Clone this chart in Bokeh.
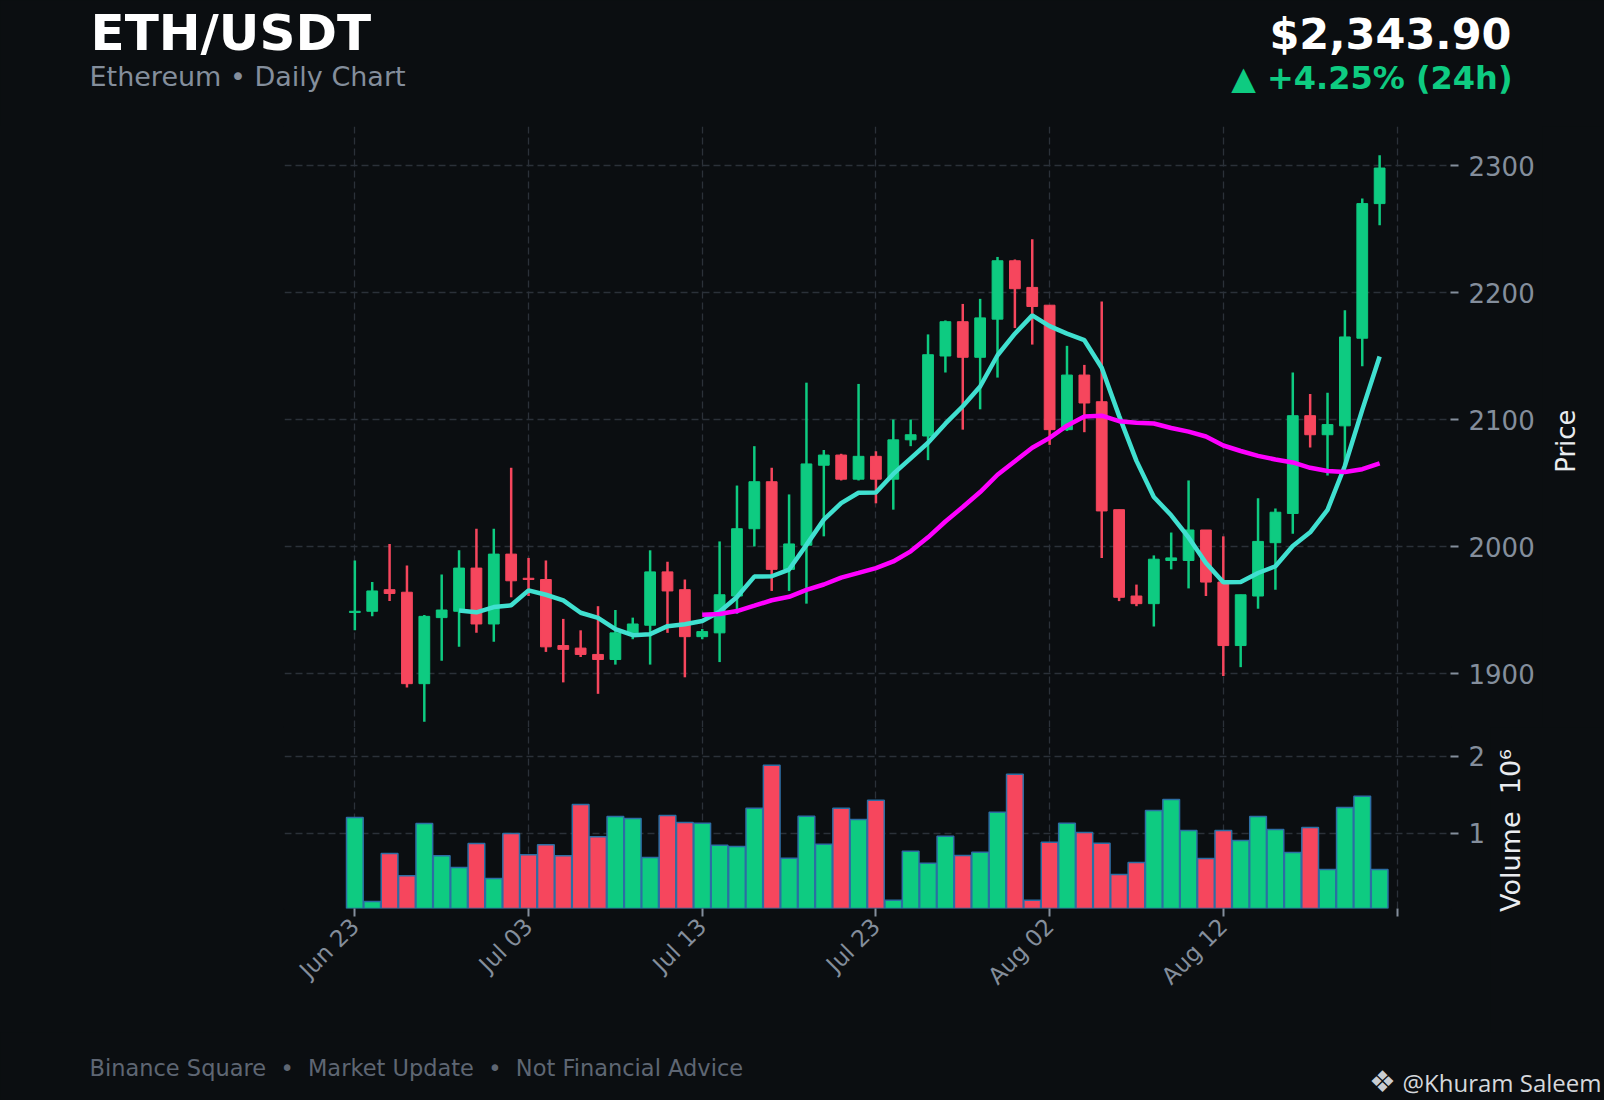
import numpy as np
import pandas as pd
from bokeh.plotting import figure
from bokeh.layouts import column, row
from bokeh.models import Range1d, FixedTicker, ColumnDataSource
from bokeh.core.properties import value
from bokeh.embed import file_html
from bokeh.resources import INLINE

# ---------------- data ----------------
open_ = [1948, 1949, 1966, 1964, 1892, 1944, 1949, 1983, 1939, 1994,
         1975, 1974, 1922, 1920, 1915, 1911, 1932, 1938, 1980, 1966,
         1929, 1932, 1961, 2014, 2051, 1982, 2001, 2064, 2072, 2053,
         2071, 2053, 2084, 2087, 2150, 2177, 2149, 2179, 2225, 2204,
         2190, 2092, 2135, 2114, 2029, 1961, 1955, 1989, 1989, 2013,
         1972, 1922, 1961, 2003, 2026, 2103, 2088, 2095, 2164, 2270]
close = [1949, 1965, 1963, 1892, 1945, 1950, 1983, 1939, 1994, 1973,
         1974, 1921, 1919, 1915, 1911, 1932, 1939, 1980, 1965, 1929,
         1933, 1962, 2014, 2051, 1982, 2002, 2065, 2072, 2053, 2071,
         2053, 2084, 2088, 2151, 2177, 2149, 2180, 2225, 2203, 2189,
         2092, 2135, 2113, 2028, 1960, 1955, 1990, 1991, 2013, 1972,
         1922, 1962, 2004, 2027, 2103, 2088, 2096, 2165, 2270, 2298]
high = [1989, 1972, 2002, 1985, 1946, 1978, 1997, 2014, 2014, 2062,
        1991, 1989, 1943, 1934, 1953, 1950, 1944, 1997, 1988, 1974,
        1935, 2004, 2048, 2079, 2062, 2041, 2129, 2076, 2073, 2128,
        2075, 2100, 2100, 2167, 2178, 2191, 2195, 2228, 2226, 2242,
        2190, 2158, 2143, 2193, 2029, 1970, 1993, 2011, 2052, 2013,
        2008, 1962, 2038, 2030, 2137, 2120, 2121, 2186, 2274, 2308]
low = [1934, 1945, 1957, 1889, 1862, 1910, 1921, 1932, 1925, 1960,
       1961, 1917, 1893, 1913, 1884, 1907, 1927, 1907, 1932, 1897,
       1927, 1909, 1947, 2000, 1965, 1965, 1955, 2008, 2052, 2052,
       2034, 2029, 2079, 2068, 2137, 2092, 2108, 2133, 2172, 2159,
       2080, 2091, 2090, 1991, 1957, 1953, 1937, 1982, 1967, 1961,
       1898, 1905, 1951, 1966, 2010, 2078, 2056, 2058, 2142, 2253]
volume = [1203000, 108000, 734000, 443000, 1125000, 704000, 551000, 864000, 408000, 995000,
          717000, 847000, 704000, 1373000, 951000, 1216000, 1190000, 682000, 1229000, 1138000,
          1127000, 843000, 825000, 1325000, 1885000, 673000, 1220000, 855000, 1325000, 1177000,
          1429000, 125000, 764000, 608000, 960000, 708000, 751000, 1273000, 1768000, 125000,
          882000, 1129000, 1008000, 869000, 460000, 617000, 1295000, 1438000, 1034000, 669000,
          1034000, 904000, 1216000, 1047000, 747000, 1073000, 525000, 1334000, 1481000, 525000]

tick_pos = [0, 10, 20, 30, 40, 50, 60]
tick_labels = ["Jun 23", "Jul 03", "Jul 13", "Jul 23", "Aug 02", "Aug 12", ""]
price_ticks = [1900, 2000, 2100, 2200, 2300]
volume_ticks = [1000000, 2000000]
volume_tick_labels = ["1", "2"]
ma_fast_window = 7
ma_slow_window = 21

title_text = "ETH/USDT"
subtitle_text = "Ethereum \u2022 Daily Chart"
price_text = "$2,343.90"
change_text = "\u25b2 +4.25% (24h)"
footer_text = "Binance Square\u00a0 \u2022\u00a0 Market Update\u00a0 \u2022\u00a0 Not Financial Advice"
logo_text = "\u2756"
credit_text = "@Khuram Saleem"
price_axis_title = "Price"
volume_axis_title = "Volume\u00a0 10\u2076"

# ---------------- style ----------------
BG = "#0b0e11"
GREEN = "#0ecb81"
RED = "#f6465d"
GRID = "#2b3139"
TICK = "#848e9c"
HOST_CSS = ":host { background-color: #0b0e11; }"

idx = np.arange(len(close))
o = np.array(open_, dtype=float)
c = np.array(close, dtype=float)
colors = [GREEN if cc >= oo else RED for oo, cc in zip(o, c)]
src = ColumnDataSource(dict(
    x=idx, high=high, low=low,
    top=np.maximum(o, c), bottom=np.minimum(o, c),
    color=colors, vol=volume,
))
ma_fast = pd.Series(c).rolling(ma_fast_window).mean().to_numpy()
ma_slow = pd.Series(c).rolling(ma_slow_window).mean().to_numpy()

xr = Range1d(-4.05, 63.08)


def base_fig(**kw):
    fig = figure(toolbar_location=None, output_backend="svg",
                 background_fill_color=BG, border_fill_color=None,
                 styles={"background-color": BG}, stylesheets=[HOST_CSS], **kw)
    fig.outline_line_color = BG
    fig.outline_line_width = 3
    return fig


def page_fig(x0, x1, y0, y1):
    """A blank figure whose data units are page pixels (y grows downward)."""
    fig = base_fig(width=x1 - x0, height=y1 - y0, x_range=Range1d(x0, x1),
                   y_range=Range1d(y1, y0), x_axis_type=None, y_axis_type=None,
                   min_border=0)
    try:
        fig.frame_align = False
    except Exception:
        pass
    fig.grid.visible = False
    fig.outline_line_color = None
    return fig


def style_axis(ax):
    ax.axis_line_color = None
    ax.major_tick_line_color = TICK
    ax.major_tick_line_width = 2
    ax.major_tick_out = 8
    ax.major_tick_in = 0
    ax.minor_tick_line_color = None
    ax.major_label_text_color = TICK
    ax.major_label_text_font = "DejaVu Sans"


def style_grid(fig):
    fig.grid.grid_line_color = GRID
    fig.grid.grid_line_dash = "7 4"
    fig.grid.grid_line_width = 1.3


SPLIT = 735          # page y where price panel ends and volume panel starts
PR_RIGHT = 92        # right border of price panel (ticks + labels)
VO_RIGHT = 40        # right border of volume panel

# ---------------- header ----------------
h = page_fig(8, 1612, 8, 134)
h.text(x=[98], y=[40.5], text=[title_text], text_font=value("DejaVu Sans"),
       text_font_style="bold", text_font_size="50px", text_color="#ffffff",
       text_align="left", text_baseline="middle")
h.text(x=[97], y=[84], text=[subtitle_text], text_font=value("DejaVu Sans"),
       text_font_size="27px", text_color=TICK,
       text_align="left", text_baseline="middle")
h.text(x=[1519], y=[41], text=[price_text], text_font=value("DejaVu Sans"),
       text_font_style="bold", text_font_size="43px", text_color="#ffffff",
       text_align="right", text_baseline="middle")
h.text(x=[1520], y=[85.5], text=[change_text], text_font=value("DejaVu Sans"),
       text_font_style="bold", text_font_size="32px", text_color=GREEN,
       text_align="right", text_baseline="middle")

# ---------------- price panel ----------------
p = base_fig(width=284 + 1166 + PR_RIGHT, height=SPLIT - 134, x_range=xr,
             y_range=Range1d(2000 - (SPLIT - 554) / 1.27, 2330.71),
             y_axis_location="right",
             min_border_left=284, min_border_right=PR_RIGHT, min_border_top=0, min_border_bottom=0)
p.xaxis.visible = False
p.xgrid.ticker = FixedTicker(ticks=tick_pos)
p.yaxis.ticker = FixedTicker(ticks=price_ticks)
p.ygrid.ticker = FixedTicker(ticks=price_ticks)
style_axis(p.yaxis[0])
p.yaxis.major_label_text_font_size = "26px"
p.yaxis.major_label_standoff = 10
style_grid(p)

p.segment(x0="x", y0="low", x1="x", y1="high", line_color="color", line_width=2.5, source=src)
p.vbar(x="x", width=0.62, top="top", bottom="bottom", fill_color="color",
       line_color="color", line_width=1, source=src)
p.line(idx, ma_fast, line_color="#40e0d0", line_width=4.5)
p.line(idx, ma_slow, line_color="#ff00ff", line_width=4.5)

sp = page_fig(8 + 284 + 1166 + PR_RIGHT, 1612, 134, SPLIT)
sp.text(x=[1573], y=[448.6], text=[price_axis_title], angle=np.pi / 2,
        text_font=value("DejaVu Sans"), text_font_size="26px", text_color="#eaecef",
        text_align="center", text_baseline="middle")

# ---------------- volume panel ----------------
v = base_fig(width=284 + 1166 + VO_RIGHT, height=1040 - SPLIT, x_range=xr,
             y_range=Range1d(16950, 16950 + (916 - SPLIT) / 76.7e-6),
             y_axis_location="right",
             min_border_left=284, min_border_right=VO_RIGHT, min_border_top=0, min_border_bottom=124)
v.vbar(x="x", width=0.96, top="vol", bottom=0, fill_color="color",
       line_color="#2c6ea4", line_width=1.5, source=src)
v.xaxis.ticker = FixedTicker(ticks=tick_pos)
v.xgrid.ticker = FixedTicker(ticks=tick_pos)
v.xaxis.major_label_overrides = {t: l for t, l in zip(tick_pos, tick_labels)}
v.xaxis.major_label_orientation = np.pi / 4
v.xaxis.major_label_text_font_size = "23px"
v.xaxis.major_label_standoff = 6
style_axis(v.xaxis[0])
v.yaxis.ticker = FixedTicker(ticks=volume_ticks)
v.ygrid.ticker = FixedTicker(ticks=volume_ticks)
v.yaxis.major_label_overrides = {t: l for t, l in zip(volume_ticks, volume_tick_labels)}
style_axis(v.yaxis[0])
v.yaxis.major_label_text_font_size = "26px"
v.yaxis.major_label_standoff = 10
style_grid(v)

sv = page_fig(8 + 284 + 1166 + VO_RIGHT, 1612, SPLIT, 1040)
sv.text(x=[1518], y=[838], text=[volume_axis_title], angle=np.pi / 2,
        text_font=value("DejaVu Sans"), text_font_size="27px", text_color="#eaecef",
        text_align="center", text_baseline="middle")

# ---------------- footer ----------------
f = page_fig(8, 1612, 1040, 1108)
f.text(x=[97], y=[1075], text=[footer_text], text_font=value("DejaVu Sans"),
       text_font_size="22.5px", text_color="#5e6673",
       text_align="left", text_baseline="middle")
f.text(x=[1390], y=[1089], text=[logo_text], text_font=value("DejaVu Sans"),
       text_font_size="30px", text_color="#c9cdd2",
       text_align="center", text_baseline="middle")
f.text(x=[1410], y=[1090], text=[credit_text], text_font=value("Open Sans"),
       text_font_size="24px", text_color="#d5d8dc",
       text_align="left", text_baseline="middle")

layout = column(h, row(p, sp, spacing=0), row(v, sv, spacing=0), f, spacing=0)
html = file_html(layout, INLINE)
html = html.replace("<body>", '<body style="background-color:#0b0e11;margin:8px;">', 1)
open("out.html", "w").write(html)
